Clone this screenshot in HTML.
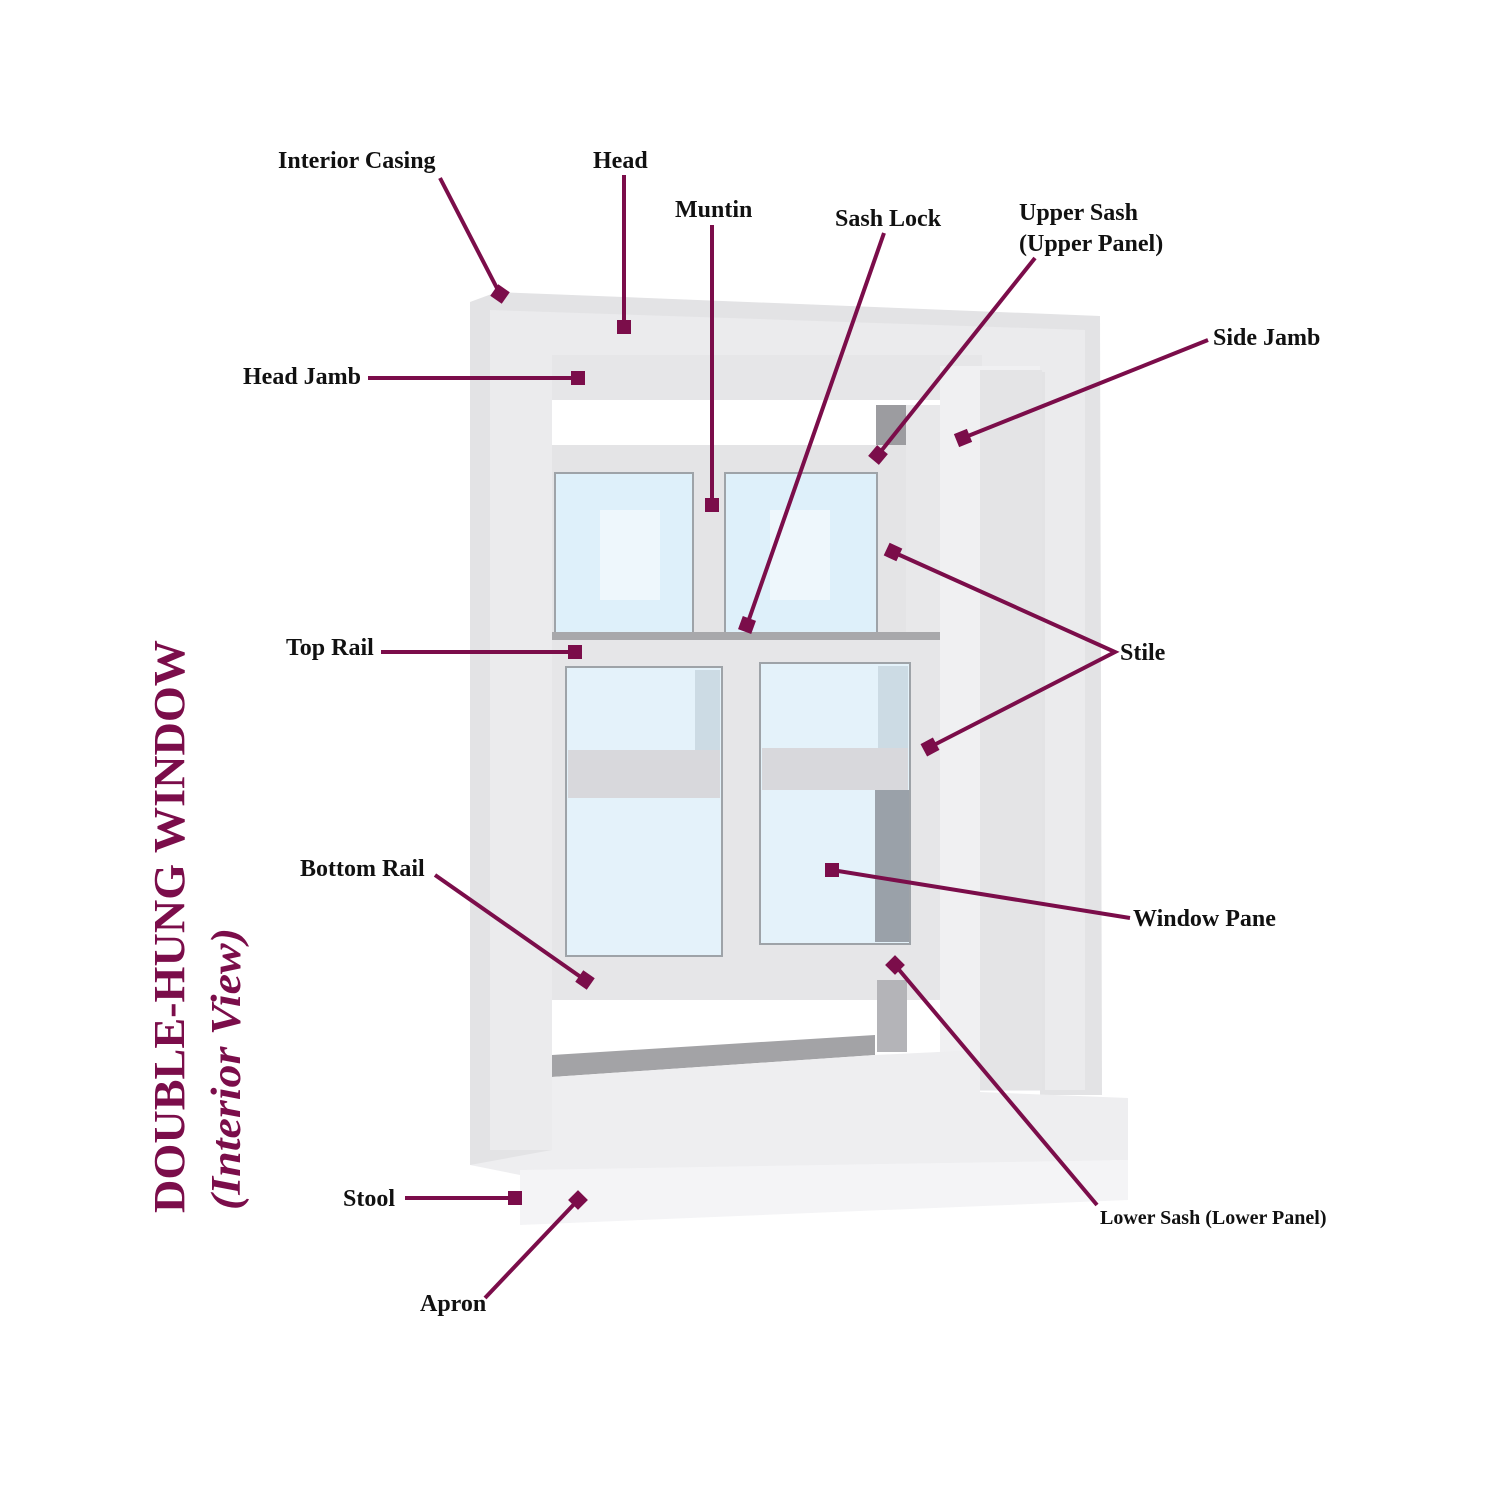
<!DOCTYPE html>
<html><head><meta charset="utf-8"><style>
html,body{margin:0;padding:0;background:#fff}
svg{display:block}
text{font-family:"Liberation Serif",serif;font-weight:bold;fill:#111}
</style></head><body>
<svg width="1500" height="1500" viewBox="0 0 1500 1500" xmlns="http://www.w3.org/2000/svg">
<rect width="1500" height="1500" fill="#fff"/>
<polygon points="470,302 497,292 1100,316 1102,1095 1040,1095 1040,366 552,356 552,1165 470,1165" fill="#e3e3e5"/>
<polygon points="490,310 1085,330 1085,1090 1045,1090 1045,372 552,360 552,1150 490,1150" fill="#ebebed"/>
<rect x="552" y="355" width="430" height="45" fill="#e6e6e8"/>
<rect x="940" y="366" width="100" height="725" fill="#f0f0f2"/>
<rect x="980" y="370" width="62" height="720" fill="#e4e4e6"/>
<rect x="552" y="400" width="388" height="45" fill="#fff"/>
<rect x="876" y="405" width="30" height="50" fill="#9c9ca0"/>
<rect x="906" y="405" width="34" height="570" fill="#e8e8ea"/>
<rect x="552" y="445" width="354" height="190" fill="#e4e4e6"/>
<rect x="555" y="473" width="138" height="163" fill="#def0fa" stroke="#9ea3a8" stroke-width="2"/>
<rect x="725" y="473" width="152" height="161" fill="#def0fa" stroke="#9ea3a8" stroke-width="2"/>
<rect x="600" y="510" width="60" height="90" fill="#eef7fc"/>
<rect x="770" y="510" width="60" height="90" fill="#eef7fc"/>
<rect x="552" y="632" width="388" height="8" fill="#a8a8ab"/>
<rect x="552" y="640" width="388" height="360" fill="#e6e6e8"/>
<rect x="566" y="667" width="156" height="289" fill="#e4f2fa" stroke="#9ea3a8" stroke-width="2"/>
<rect x="760" y="663" width="150" height="281" fill="#e4f2fa" stroke="#9ea3a8" stroke-width="2"/>
<rect x="568" y="750" width="152" height="48" fill="#d8d8dc"/>
<rect x="762" y="748" width="146" height="42" fill="#d8d8dc"/>
<rect x="695" y="670" width="25" height="80" fill="#ccdbe4"/>
<rect x="878" y="666" width="30" height="82" fill="#ccdbe4"/>
<rect x="875" y="790" width="34" height="152" fill="#9aa1a9"/>
<rect x="552" y="1000" width="325" height="50" fill="#fff"/>
<rect x="877" y="980" width="30" height="72" fill="#b4b4b8"/>
<polygon points="552,1055 875,1035 875,1055 552,1077" fill="#a3a3a6"/>
<polygon points="552,1077 875,1055 980,1050 980,1092 1128,1098 1128,1160 520,1175 470,1165 552,1150" fill="#eeeef0"/>
<polygon points="520,1170 1128,1160 1128,1200 520,1225" fill="#f4f4f6"/>
<g stroke="#7b0d4a" stroke-width="4" fill="none">
<line x1="440" y1="178" x2="500" y2="294"/>
<line x1="624" y1="175" x2="624" y2="327"/>
<line x1="712" y1="225" x2="712" y2="505"/>
<line x1="884" y1="233" x2="747" y2="625"/>
<line x1="1035" y1="258" x2="878" y2="455"/>
<line x1="1208" y1="340" x2="963" y2="438"/>
<line x1="368" y1="378" x2="578" y2="378"/>
<line x1="381" y1="652" x2="575" y2="652"/>
<polyline points="893,552 1115,652 930,747"/>
<line x1="435" y1="875" x2="585" y2="980"/>
<line x1="1130" y1="918" x2="832" y2="870"/>
<line x1="1097" y1="1205" x2="895" y2="965"/>
<line x1="405" y1="1198" x2="515" y2="1198"/>
<line x1="485" y1="1298" x2="578" y2="1200"/>
</g>
<g fill="#7b0d4a">
<rect x="493" y="287" width="14" height="14" transform="rotate(35 500 294)"/>
<rect x="617" y="320" width="14" height="14"/>
<rect x="705" y="498" width="14" height="14"/>
<rect x="740" y="618" width="14" height="14" transform="rotate(20 747 625)"/>
<rect x="871" y="448" width="14" height="14" transform="rotate(40 878 455)"/>
<rect x="956" y="431" width="14" height="14" transform="rotate(-22 963 438)"/>
<rect x="571" y="371" width="14" height="14"/>
<rect x="568" y="645" width="14" height="14"/>
<rect x="886" y="545" width="14" height="14" transform="rotate(25 893 552)"/>
<rect x="923" y="740" width="14" height="14" transform="rotate(-28 930 747)"/>
<rect x="578" y="973" width="14" height="14" transform="rotate(35 585 980)"/>
<rect x="825" y="863" width="14" height="14"/>
<rect x="888" y="958" width="14" height="14" transform="rotate(45 895 965)"/>
<rect x="508" y="1191" width="14" height="14"/>
<rect x="571" y="1193" width="14" height="14" transform="rotate(45 578 1200)"/>
</g>
<g font-size="24">
<text x="278" y="168">Interior Casing</text>
<text x="593" y="168">Head</text>
<text x="675" y="217">Muntin</text>
<text x="835" y="226">Sash Lock</text>
<text x="1019" y="220">Upper Sash</text>
<text x="1019" y="251">(Upper Panel)</text>
<text x="1213" y="345">Side Jamb</text>
<text x="243" y="384">Head Jamb</text>
<text x="286" y="655">Top Rail</text>
<text x="1120" y="660">Stile</text>
<text x="300" y="876">Bottom Rail</text>
<text x="1133" y="926">Window Pane</text>
<text x="343" y="1206">Stool</text>
<text x="420" y="1311">Apron</text>
<text x="1100" y="1224" font-size="20">Lower Sash (Lower Panel)</text>
</g>
<text transform="translate(184,1213) rotate(-90)" font-size="44" style="fill:#7b0d4a" textLength="573" lengthAdjust="spacingAndGlyphs">DOUBLE-HUNG WINDOW</text>
<text transform="translate(240,1210) rotate(-90)" font-size="42" style="fill:#7b0d4a;font-style:italic" textLength="282" lengthAdjust="spacingAndGlyphs">(Interior View)</text>
</svg>
</body></html>
